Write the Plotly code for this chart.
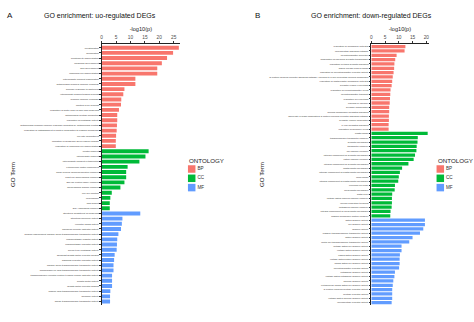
import plotly.graph_objects as go

W, H = 474, 322
FONT = "Liberation Sans, Arial, sans-serif"

# ---------------- Panel A: up-regulated DEGs ----------------
a_bp_terms = [
    "keratinization", "cornification", "keratinocyte differentiation",
    "epidermis development", "skin development", "epidermal cell differentiation",
    "intermediate filament organization", "antimicrobial humoral immune response",
    "defense response to bacterium", "intermediate filament-based process",
    "humoral immune response", "molting cycle process",
    "regulation of water loss via skin and epidermis", "antimicrobial peptide production",
    "regulation of peptidase activity",
    "antimicrobial humoral immune response mediated by antimicrobial peptide",
    "regulation of establishment of protein localization to plasma membrane",
    "cell fate commitment", "formation of quadruple SL/U4/U5/U6 snRNP",
    "regulation of epidermal cell differentiation",
]
a_bp_vals = [26.8, 24.8, 22.7, 20.9, 19.3, 19.3, 11.7, 11.7, 7.9, 7.5,
             6.8, 6.7, 6.0, 5.4, 5.4, 5.3, 5.2, 5.0, 4.9, 4.9]

a_cc_terms = [
    "keratin filament", "intermediate filament", "intermediate filament cytoskeleton",
    "extracellular matrix component", "small nuclear ribonucleoprotein complex",
    "U12-type spliceosomal complex", "Sm-like protein family complex",
    "spliceosomal snRNP complex", "cell-cell junction", "nucleosome",
    "lipid droplet", "DNA packaging complex",
]
a_cc_vals = [16.3, 15.2, 13.1, 9.0, 8.5, 8.5, 7.9, 6.5, 3.5, 3.0, 2.8, 2.8]

a_mf_terms = [
    "structural constituent of epidermis", "structural molecule activity",
    "receptor ligand activity", "signaling receptor activator activity",
    "sodium-independent organic anion transmembrane transporter activity",
    "endopeptidase inhibitor activity", "endopeptidase regulator activity",
    "serine-type peptidase activity", "fibroblast growth factor receptor binding",
    "signaling receptor regulator activity",
    "organic anion transmembrane transporter activity",
    "monocarboxylic acid transmembrane transporter activity",
    "transmembrane receptor protein tyrosine kinase activator activity",
    "growth factor activity", "growth factor receptor binding",
    "organic acid transmembrane transporter activity", "hormone activity",
    "amide transmembrane transporter activity",
]
a_mf_vals = [13.4, 7.2, 7.0, 6.7, 5.8, 5.4, 5.3, 5.2, 4.5, 4.3,
             4.1, 4.1, 3.6, 3.6, 3.6, 3.0, 2.9, 2.9]

# ---------------- Panel B: down-regulated DEGs ----------------
b_bp_terms = [
    "regulation of membrane potential", "neuropeptide signaling pathway",
    "neurotransmitter secretion", "modulation of chemical synaptic transmission",
    "regulation of trans-synaptic signaling", "signal release from synapse",
    "regulation of neurotransmitter receptor activity",
    "G protein-coupled receptor signaling pathway, coupled to cyclic nucleotide second messenger",
    "regulation of postsynaptic membrane potential", "synaptic vesicle exocytosis",
    "regulation of neurotransmitter levels", "neurotransmitter transport",
    "regulation of exocytosis", "learning or memory", "synapse organization",
    "second-messenger-mediated signaling",
    "adenylate cyclase-modulating G protein-coupled receptor signaling pathway",
    "synaptic vesicle localization", "cAMP-mediated signaling",
    "regulation of hormone levels",
]
b_bp_vals = [12.4, 12.1, 9.2, 8.7, 8.4, 8.3, 8.1, 7.8, 7.6, 7.4,
             7.0, 6.9, 6.8, 6.7, 6.5, 6.5, 6.4, 6.4, 6.3, 6.3]

b_cc_terms = [
    "postsynapse", "transmembrane transporter complex", "synaptic membrane",
    "transporter complex", "ion channel complex",
    "intrinsic component of synaptic membrane", "cation channel complex",
    "integral component of synaptic membrane", "postsynaptic membrane",
    "intrinsic component of postsynaptic membrane", "presynapse",
    "integral component of postsynaptic membrane", "neuronal cell body",
    "presynaptic membrane", "distal axon", "voltage-gated calcium channel complex",
    "neuron projection terminus", "potassium channel complex",
    "integral component of presynaptic membrane", "plasma membrane protein complex",
]
b_cc_vals = [20.5, 16.9, 16.8, 16.5, 16.4, 15.9, 15.4, 13.5, 11.2, 10.4,
             10.0, 9.8, 8.6, 8.5, 7.6, 7.5, 7.5, 7.4, 7.0, 6.9]

b_mf_terms = [
    "gated channel activity", "ion channel activity", "channel activity",
    "passive transmembrane transporter activity", "cation channel activity",
    "metal ion transmembrane transporter activity", "voltage-gated ion channel activity",
    "voltage-gated channel activity", "ligand-gated channel activity",
    "voltage-gated cation channel activity", "ligand-gated ion channel activity",
    "neurotransmitter receptor activity", "potassium channel activity",
    "voltage-gated potassium channel activity", "calcium channel activity",
    "extracellular ligand-gated ion channel activity",
    "G protein-coupled peptide receptor activity", "peptide receptor activity",
    "voltage-gated calcium channel activity", "neuropeptide receptor activity",
]
b_mf_vals = [19.5, 19.5, 18.9, 17.7, 15.0, 13.8, 11.0, 11.0, 10.4, 10.3,
             10.3, 10.1, 8.6, 8.4, 8.0, 7.8, 7.6, 7.6, 7.6, 7.4]

ontologies = ["BP", "CC", "MF"]
colors = {"BP": "#F8766D", "CC": "#00BA38", "MF": "#619CFF"}

panel_a = {"BP": (a_bp_terms, a_bp_vals), "CC": (a_cc_terms, a_cc_vals), "MF": (a_mf_terms, a_mf_vals)}
panel_b = {"BP": (b_bp_terms, b_bp_vals), "CC": (b_cc_terms, b_cc_vals), "MF": (b_mf_terms, b_mf_vals)}


def px_x(p):
    return p / W


def px_y(p):
    return 1 - p / H


fig = go.Figure()

for panel, (xa, ya) in ((panel_a, ("x", "y")), (panel_b, ("x2", "y2"))):
    for ont in ontologies:
        terms, vals = panel[ont]
        fig.add_trace(go.Bar(
            x=vals, y=terms, orientation="h", xaxis=xa, yaxis=ya,
            marker=dict(color=colors[ont], line=dict(width=0)),
            name=ont, showlegend=False,
        ))

# legend keys drawn as markers on small category axes
for xa, ya in (("x3", "y3"), ("x4", "y4")):
    fig.add_trace(go.Scatter(
        x=[0] * len(ontologies), y=ontologies, xaxis=xa, yaxis=ya,
        mode="markers+text", text=ontologies, textposition="middle right",
        textfont=dict(size=4.6, color="#333333", family=FONT),
        marker=dict(symbol="square", size=7.5, color=[colors[o] for o in ontologies]),
        showlegend=False, hoverinfo="skip", cliponaxis=False,
    ))

a_cats = a_bp_terms + a_cc_terms + a_mf_terms
b_cats = b_bp_terms + b_cc_terms + b_mf_terms

y_dom = [px_y(305.0), px_y(44.2)]

xcommon = dict(side="top", showline=True, linecolor="#222222", linewidth=0.6,
               ticks="outside", ticklen=2, tickwidth=0.6, tickcolor="#333333",
               tickfont=dict(size=4.8, color="#4d4d4d", family=FONT),
               showgrid=False, zeroline=False, dtick=5, tick0=0,
               title=dict(text="-log10(p)", font=dict(size=5.6, color="#222222", family=FONT), standoff=3),
               automargin=False, fixedrange=True)
ycommon = dict(showline=True, linecolor="#222222", linewidth=0.6,
               ticks="outside", ticklen=1.5, tickwidth=0.5, tickcolor="#333333",
               tickfont=dict(size=2.4, color="#333333", family=FONT),
               showgrid=False, zeroline=False, type="category", tickmode="array",
               title=dict(text="GO Term", font=dict(size=6.2, color="#222222", family=FONT), standoff=4),
               automargin=False, fixedrange=True)

fig.update_layout(
    width=W, height=H, autosize=False,
    margin=dict(l=0, r=0, t=0, b=0),
    paper_bgcolor="white", plot_bgcolor="white",
    barmode="overlay", bargap=0.25,
    font=dict(family=FONT, color="#222222"),
    xaxis=dict(domain=[px_x(101.7), px_x(180.0)], range=[0, 27.2], anchor="y", **xcommon),
    yaxis=dict(domain=y_dom, anchor="x", categoryarray=a_cats, tickvals=a_cats,
               range=[len(a_cats) - 1 + 0.675, -0.675], **ycommon),
    xaxis2=dict(domain=[px_x(371.3), px_x(428.5)], range=[0, 20.8], anchor="y2", **xcommon),
    yaxis2=dict(domain=y_dom, anchor="x2", categoryarray=b_cats, tickvals=b_cats,
                range=[len(b_cats) - 1 + 0.55, -0.55], **ycommon),
    xaxis3=dict(domain=[px_x(187.7), px_x(227.7)], range=[-1, 9], visible=False, anchor="y3"),
    yaxis3=dict(domain=[px_y(192.25), px_y(164.35)], range=[2.5, -0.5], visible=False,
                type="category", categoryarray=ontologies, anchor="x3"),
    xaxis4=dict(domain=[px_x(436.3), px_x(472.3)], range=[-1, 8], visible=False, anchor="y4"),
    yaxis4=dict(domain=[px_y(192.25), px_y(164.35)], range=[2.5, -0.5], visible=False,
                type="category", categoryarray=ontologies, anchor="x4"),
    showlegend=False,
)

ann = [
    dict(text="A", x=px_x(10), y=px_y(15.5), font=dict(size=8, color="#111111")),
    dict(text="B", x=px_x(257.5), y=px_y(15.5), font=dict(size=8, color="#111111")),
    dict(text="GO enrichment: uo-regulated DEGs", x=px_x(100), y=px_y(16), font=dict(size=7, color="#111111")),
    dict(text="GO enrichment: down-regulated DEGs", x=px_x(371), y=px_y(16), font=dict(size=7, color="#111111")),
    dict(text="ONTOLOGY", x=px_x(187), y=px_y(160.5), xanchor="left", font=dict(size=6.2, color="#222222")),
    dict(text="ONTOLOGY", x=px_x(436), y=px_y(160.7), xanchor="left", font=dict(size=6.2, color="#222222")),
]
for a in ann:
    a.setdefault("xanchor", "center")
    fig.add_annotation(xref="paper", yref="paper", yanchor="middle", showarrow=False, **a)

fig.write_html("out.html")
